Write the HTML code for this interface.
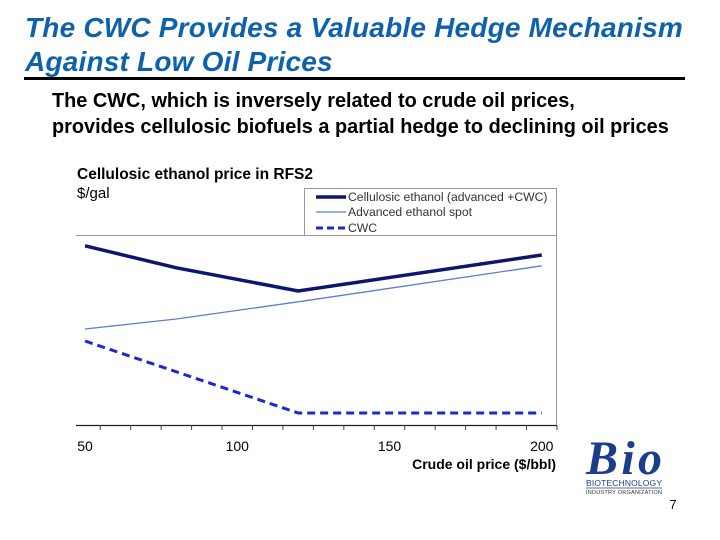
<!DOCTYPE html>
<html><head><meta charset="utf-8"><style>
body{margin:0;width:720px;height:540px;background:#fff;position:relative;overflow:hidden;font-family:"Liberation Sans",Arial,sans-serif}
.t{position:absolute;left:25px;top:11px;color:#0E62AC;font-weight:bold;font-style:italic;font-size:28px;line-height:34px;margin:0;letter-spacing:0.2px}
.rule{position:absolute;left:24px;top:77px;width:661px;height:3px;background:#000}
.sub{position:absolute;left:52px;top:88px;font-size:19.9px;line-height:26px;color:#000;font-weight:bold}
</style></head><body>
<h1 class="t">The CWC Provides a Valuable Hedge Mechanism<br>Against Low Oil Prices</h1>
<div class="rule"></div>
<div class="sub">The CWC, which is inversely related to crude oil prices,<br>provides cellulosic biofuels a partial hedge to declining oil prices</div>
<svg id="chart" width="720" height="540" style="position:absolute;left:0;top:0" font-family="Liberation Sans, Arial, sans-serif">
<text x="77" y="179" font-size="15.5" font-weight="bold">Cellulosic ethanol price in RFS2</text>
<text x="77" y="198" font-size="15">$/gal</text>
<g id="plot"></g>
<g>
<rect x="304.5" y="188.5" width="252" height="47" fill="#fff" stroke="#999"/>
<line x1="316" y1="197" x2="346" y2="197" stroke="#0d1570" stroke-width="3.5"/>
<text x="348" y="201" font-size="12.2" fill="#333">Cellulosic ethanol (advanced +CWC)</text>
<line x1="316" y1="212" x2="346" y2="212" stroke="#5a7fd0" stroke-width="1.2"/>
<text x="348" y="216" font-size="12.2" fill="#333">Advanced ethanol spot</text>
<line x1="316" y1="228" x2="346" y2="228" stroke="#1a2ad0" stroke-width="3" stroke-dasharray="7,4"/>
<text x="348" y="232" font-size="12.2" fill="#333">CWC</text>
</g>
<text x="556" y="469" font-size="14" font-weight="bold" text-anchor="end">Crude oil price ($/bbl)</text>
<g>
<text x="586" y="474" font-size="48" font-family="Liberation Serif, serif" font-style="italic" font-weight="bold" fill="#1a3e8c" textLength="76">Bio</text>
<text x="586" y="486" font-size="8.5" fill="#1a3e8c" textLength="76">BIOTECHNOLOGY</text>
<line x1="586" y1="488" x2="662" y2="488" stroke="#1a3e8c" stroke-width="0.8"/>
<text x="586" y="494" font-size="5.5" fill="#333" textLength="76">INDUSTRY ORGANIZATION</text>
</g>
<text x="673" y="509" font-size="13" text-anchor="middle">7</text>
</svg>
<script>
const oilPrice=[50,80,120,200];
const cellulosic=[4.48,3.93,3.35,4.25];
const spot=[2.4,2.65,3.08,3.98];
const cwc=[2.1,1.33,0.3,0.3];
const xTickLabels=[50,100,150,200];
const NS="http://www.w3.org/2000/svg";
const xs=v=>85+(v-50)*3.045;
const ys=v=>425-v*40;
const g=document.getElementById('plot');
function mk(t,a){const e=document.createElementNS(NS,t);for(const k in a)e.setAttribute(k,a[k]);g.appendChild(e);return e;}
const frame=mk('path',{d:'M76 235.5H556.5V425',fill:'none',stroke:'#999'});


const ax=mk('line',{x1:76,y1:425.5,x2:557,y2:425.5,stroke:'#222','stroke-width':1.3});


for(let v=55;v<=205;v+=10){
 const t=mk('line',{x1:xs(v),y1:425,x2:xs(v),y2:430,stroke:'#444'});
 
 
}
xTickLabels.forEach(v=>{
 const t=mk('text',{x:xs(v),y:451,'font-size':14,'text-anchor':'middle'});
 t.textContent=v;
 
 
});
function line(vals,st,name){
 const p=mk('polyline',Object.assign({points:vals.map((v,i)=>xs(oilPrice[i])+','+ys(v)).join(' '),fill:'none'},st));
 
 
}
line(spot,{stroke:'#5a7fd0','stroke-width':1.3},'series-advanced-ethanol-spot');
line(cwc,{stroke:'#1a2ad0','stroke-width':3,'stroke-dasharray':'8,5'},'series-cwc');
line(cellulosic,{stroke:'#0d1570','stroke-width':3.5},'series-cellulosic-ethanol');
</script>
</body></html>
